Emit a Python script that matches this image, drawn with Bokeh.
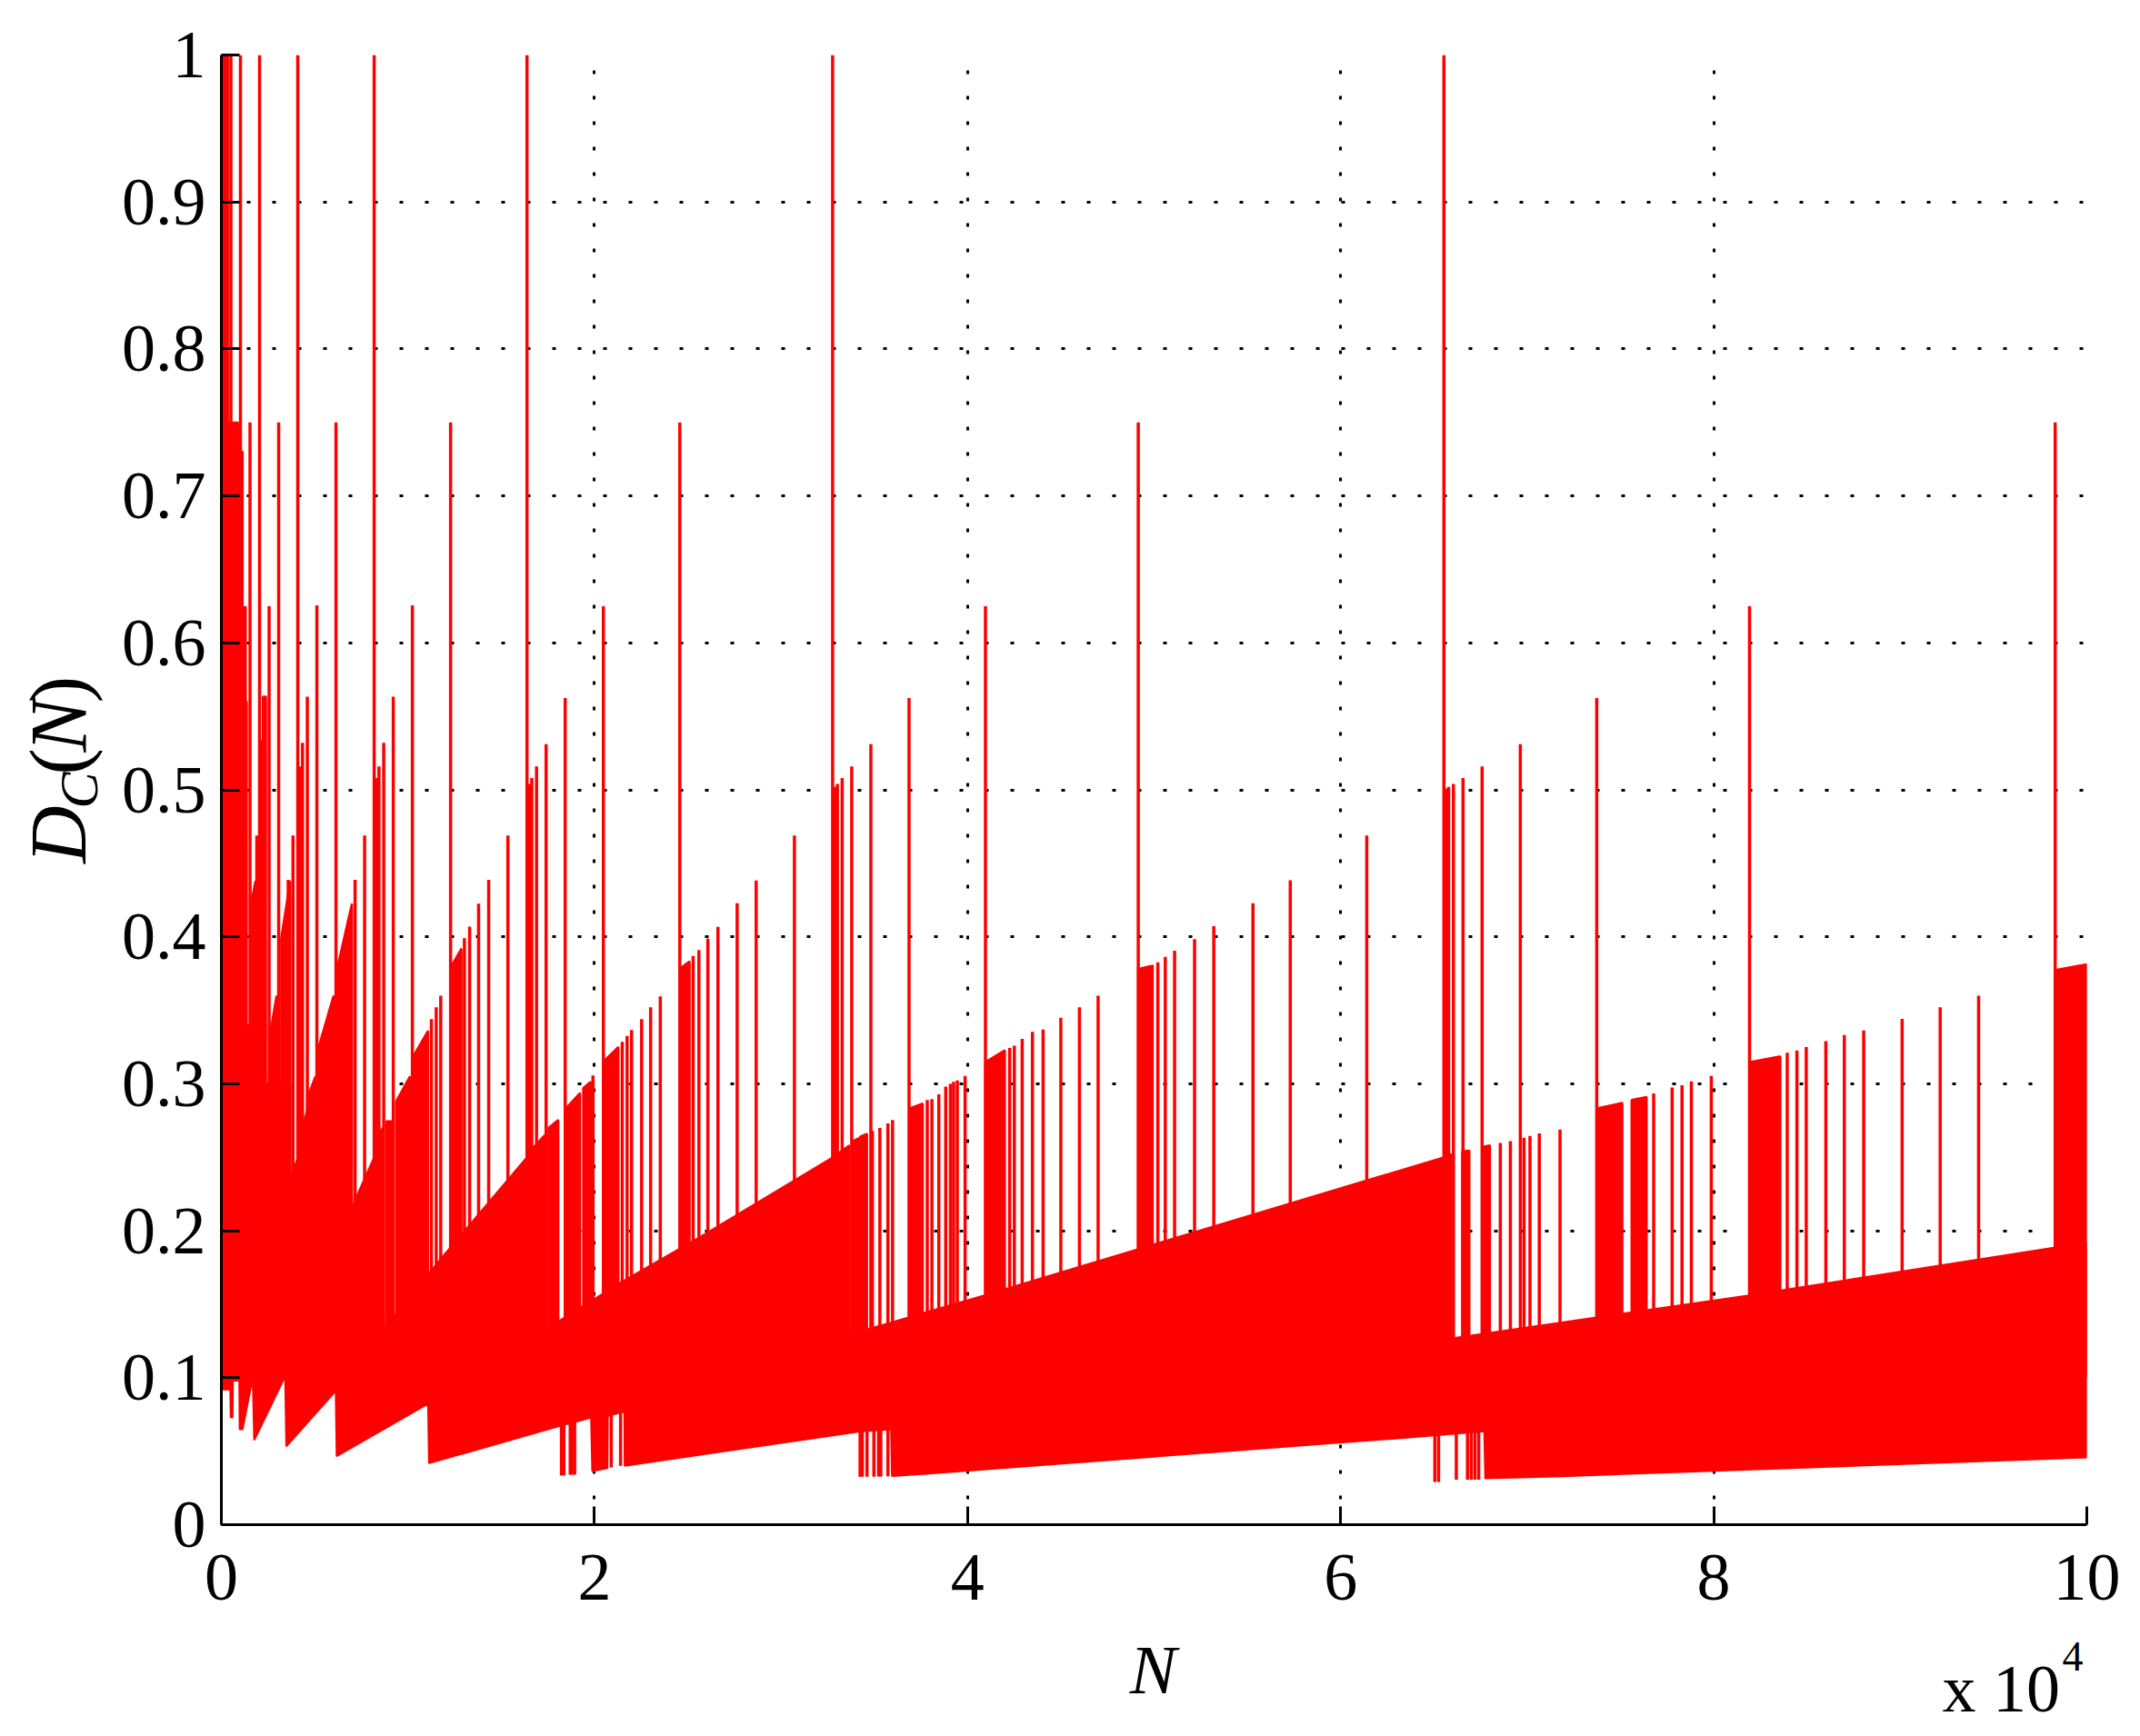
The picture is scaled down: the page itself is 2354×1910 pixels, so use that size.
import math
from bokeh.plotting import figure
from bokeh.models import Label, FixedTicker
from bokeh.layouts import column, row
from bokeh.embed import file_html
from bokeh.resources import INLINE

RED = "#ff0000"

# ---------------- data (N in units of 1e4, value D_C(N)) ----------------
# lower envelope of the dense band
low_n = [0.0, 0.004, 0.048, 0.050, 0.060, 0.062, 0.096, 0.098, 0.114, 0.168, 0.176,
         0.342, 0.348, 0.613, 0.618, 1.108, 1.113, 1.814, 1.90, 1.982, 1.988, 2.07,
         2.072, 2.16, 2.162, 3.42, 3.59, 3.595, 3.81, 6.369, 6.50, 6.77, 6.775, 7.19, 10.0]
low_v = [0.137, 0.092, 0.092, 0.073, 0.073, 0.098, 0.098, 0.065, 0.065, 0.100, 0.0575,
         0.101, 0.0533, 0.091, 0.0466, 0.0823, 0.0418, 0.0672, 0.070, 0.0729, 0.0365, 0.0385,
         0.074, 0.077, 0.040, 0.0634, 0.065, 0.0331, 0.0349, 0.0594, 0.0607, 0.0635, 0.0315, 0.0330, 0.0457]

# top of the solid band (sawtooth)
top_n = [0.0, 0.036, 0.036, 0.09, 0.09, 0.115, 0.115, 0.137, 0.137, 0.146, 0.146, 0.37, 0.37, 0.4096,
         0.4096, 0.60, 0.727, 0.8192,
         0.8192, 1.19, 1.6384,
         1.6384, 2.157, 2.569, 3.2768,
         3.2768, 3.60, 4.09, 4.90, 6.00, 6.5536,
         6.5536, 8.19, 10.0]
top_v = [1.0, 1.0, 0.75, 0.75, 0.73, 0.73, 0.56, 0.56, 0.34, 0.34, 0.30, 0.30, 0.235, 0.25,
         0.125, 0.183, 0.224, 0.25,
         0.125, 0.183, 0.25,
         0.125, 0.166, 0.196, 0.25,
         0.126, 0.138, 0.156, 0.187, 0.229, 0.25,
         0.126, 0.156, 0.192]

# dense comb groups: start N, end N, top at start, top at end
comb_n0 = [0.160, 0.2048, 0.223, 0.264, 0.321,
           0.4096, 0.446, 0.472, 0.524, 0.624,
           0.8192, 0.885, 0.937, 1.035, 1.238,
           1.6384, 1.676, 1.754, 1.852, 1.940, 2.055, 2.460,
           3.2768, 3.387, 3.424, 3.690, 4.096, 4.915,
           6.5536, 6.652, 6.770, 7.375, 7.560, 8.198, 9.840]
comb_n1 = [0.183, 0.223, 0.239, 0.296, 0.369,
           0.442, 0.470, 0.504, 0.602, 0.700,
           0.865, 0.914, 1.011, 1.108, 1.287,
           1.676, 1.733, 1.806, 1.923, 1.980, 2.128, 2.510,
           3.367, 3.416, 3.461, 3.760, 4.200, 4.980,
           6.590, 6.690, 6.800, 7.510, 7.640, 8.357, 10.0]
comb_v0 = [0.4228, 0.533, 0.5634, 0.336, 0.399,
           0.26, 0.275, 0.294, 0.326, 0.380,
           0.26, 0.2744, 0.288, 0.320, 0.381,
           0.25, 0.257, 0.270, 0.284, 0.297, 0.316, 0.3785,
           0.250, 0.261, 0.264, 0.2833, 0.3148, 0.378,
           0.250, 0.254, 0.2573, 0.2833, 0.289, 0.3148, 0.3776]
comb_v1 = [0.438, 0.533, 0.5634, 0.36, 0.438,
           0.27, 0.287, 0.305, 0.36, 0.4226,
           0.27, 0.2744, 0.305, 0.336, 0.392,
           0.257, 0.265, 0.2754, 0.2937, 0.3014, 0.325, 0.3832,
           0.258, 0.263, 0.266, 0.2865, 0.3227, 0.380,
           0.2521, 0.2545, 0.258, 0.287, 0.291, 0.3187, 0.3813]

# individual vertical lines (spikes): position and top value
line_n = [0.0512, 0.0768, 0.1024, 0.1152, 0.128, 0.1536, 0.19, 0.2048, 0.256, 0.3072, 0.3584, 0.384,
          0.4096, 0.4128, 0.416, 0.4224, 0.4352, 0.4608, 0.512, 0.6144, 0.7168, 0.768,
          0.8192, 0.8256, 0.832, 0.8448, 0.8704, 0.9216, 1.024, 1.126, 1.152, 1.176, 1.2288,
          1.303, 1.331, 1.379, 1.433, 1.536,
          1.6384, 1.6448, 1.6512, 1.664, 1.6896, 1.7408, 1.8432, 1.992, 2.048, 2.149, 2.175,
          2.199, 2.253, 2.301, 2.353, 2.4576, 2.529, 2.560, 2.608, 2.662, 2.765, 2.867, 3.072,
          3.2768, 3.2832, 3.2896, 3.3024, 3.328, 3.3792, 3.4816, 3.490, 3.530, 3.573, 3.598,
          3.6864, 3.784, 3.809, 3.846, 3.883, 3.908, 3.925, 3.945, 3.987, 4.096, 4.226, 4.251,
          4.293, 4.348, 4.405, 4.50, 4.60, 4.70, 4.9152, 4.99, 5.02, 5.06, 5.11, 5.217, 5.32,
          5.53, 5.73, 6.14,
          6.5536, 6.5664, 6.5792, 6.6048, 6.656, 6.7584, 6.856, 6.91, 6.9632, 6.983, 7.015,
          7.065, 7.176, 7.3728, 7.678, 7.777, 7.830, 7.880, 7.987, 8.192, 8.394, 8.446, 8.496,
          8.601, 8.700, 8.804, 9.010, 9.214, 9.420, 9.8304]
line_v = [1.0, 0.75, 1.0, 0.5625, 0.625, 0.75, 0.469, 1.0, 0.625, 0.75, 0.4387, 0.469,
          1.0, 0.504, 0.508, 0.516, 0.532, 0.5634, 0.6256, 0.75, 0.4387, 0.469,
          1.0, 0.504, 0.508, 0.516, 0.532, 0.5634, 0.6256, 0.344, 0.352, 0.36, 0.75,
          0.399, 0.407, 0.4226, 0.4387, 0.469,
          1.0, 0.502, 0.504, 0.508, 0.516, 0.531, 0.5625, 0.3056, 0.625, 0.3286, 0.3325,
          0.3366, 0.344, 0.352, 0.3595, 0.75, 0.387, 0.391, 0.3987, 0.4067, 0.4228, 0.4383, 0.469,
          1.0, 0.501, 0.502, 0.504, 0.508, 0.516, 0.531, 0.268, 0.270, 0.273, 0.2754,
          0.5625, 0.289, 0.2896, 0.2928, 0.2981, 0.300, 0.3013, 0.3022, 0.3054, 0.625, 0.3243, 0.3259,
          0.3305, 0.3353, 0.3369, 0.345, 0.352, 0.36, 0.75, 0.381, 0.3827, 0.3864, 0.3905, 0.3984, 0.4073,
          0.4228, 0.4385, 0.469,
          1.0, 0.501, 0.502, 0.504, 0.508, 0.516, 0.2597, 0.261, 0.531, 0.2633, 0.2645,
          0.2662, 0.2688, 0.5625, 0.2934, 0.2975, 0.299, 0.3016, 0.3054, 0.625, 0.3211, 0.3227, 0.325,
          0.329, 0.3332, 0.3363, 0.3442, 0.352, 0.36, 0.75]

# downward dips below the lower envelope
dip_n = [1.823, 1.829, 1.836, 1.870, 1.880, 1.894, 2.09, 2.14, 3.424, 3.436, 3.461, 3.498,
         3.523, 3.535, 3.573, 6.505, 6.525, 6.62, 6.68, 6.70, 6.72, 6.74]
dip_v = [0.0335, 0.0335, 0.0335, 0.034, 0.034, 0.034, 0.039, 0.040, 0.0326, 0.0326, 0.0326, 0.0326,
         0.0328, 0.0328, 0.033, 0.029, 0.029, 0.0306, 0.0306, 0.0306, 0.0306, 0.0306]

x_ticks = [0, 2, 4, 6, 8, 10]
x_tick_labels = ["0", "2", "4", "6", "8", "10"]
y_ticks = [0, 0.1, 0.2, 0.3, 0.4, 0.5, 0.6, 0.7, 0.8, 0.9, 1]
y_tick_labels = ["0", "0.1", "0.2", "0.3", "0.4", "0.5", "0.6", "0.7", "0.8", "0.9", "1"]

FONT = "Liberation Serif"

# ---------------- layout geometry (page pixels) ----------------
LEFT_W = 120      # strip holding the y label
MAIN_W = 2232
MAIN_H = 1793
BOT_H = 115

# ---------------- main figure ----------------
p = figure(width=MAIN_W, height=MAIN_H, x_range=(0, 10), y_range=(0, 1),
           output_backend="svg", toolbar_location=None, title=None,
           min_border_left=123, min_border_right=57, min_border_top=60,
           min_border_bottom=MAIN_H - 1677)
p.outline_line_color = None
p.background_fill_color = "white"
p.border_fill_color = "white"

p.xaxis.ticker = FixedTicker(ticks=x_ticks)
p.yaxis.ticker = FixedTicker(ticks=y_ticks)
p.xaxis.major_label_overrides = {t: s for t, s in zip(x_ticks, x_tick_labels)}
p.yaxis.major_label_overrides = {t: s for t, s in zip(y_ticks, y_tick_labels)}
for ax in (p.xaxis[0], p.yaxis[0]):
    ax.axis_line_width = 3
    ax.axis_line_color = "black"
    ax.major_tick_in = 20
    ax.major_tick_out = 0
    ax.major_tick_line_width = 3
    ax.major_tick_line_color = "black"
    ax.minor_tick_line_color = None
    ax.major_label_text_font = FONT
    ax.major_label_text_font_size = "74px"
    ax.major_label_text_color = "black"
p.xaxis.major_label_standoff = 33
p.yaxis.major_label_standoff = 17

p.xgrid.ticker = FixedTicker(ticks=x_ticks)
p.ygrid.ticker = FixedTicker(ticks=y_ticks)
for g in (p.xgrid[0], p.ygrid[0]):
    g.grid_line_color = "black"
    g.grid_line_width = 3
    g.grid_line_dash = "4 24"
    g.grid_line_alpha = 1.0

# solid band
poly_x = list(top_n) + list(reversed(low_n))
poly_y = list(top_v) + list(reversed(low_v))
p.patch(x=poly_x, y=poly_y, fill_color=RED, line_color=RED, line_width=2)

# dense combs
cxs = [[a, b, b, a] for a, b in zip(comb_n0, comb_n1)]
cys = [[0.1, 0.1, v1, v0] for v0, v1 in zip(comb_v0, comb_v1)]
p.patches(xs=cxs, ys=cys, fill_color=RED, line_color=RED, line_width=2.5)

# spikes
p.segment(x0=line_n, y0=[0.1] * len(line_n), x1=line_n, y1=line_v,
          line_color=RED, line_width=3.5)
# dips
p.segment(x0=dip_n, y0=[0.08] * len(dip_n), x1=dip_n, y1=dip_v,
          line_color=RED, line_width=3.5)


# ---------------- text strips (x = page X, y = -page Y) ----------------
def strip(width, height, x0, y0):
    f = figure(width=width, height=height, x_range=(x0, x0 + width),
               y_range=(-(y0 + height), -y0),
               output_backend="svg", toolbar_location=None, title=None, min_border=0,
               x_axis_location=None, y_axis_location=None)
    f.grid.visible = False
    f.outline_line_color = None
    f.background_fill_color = "white"
    f.border_fill_color = "white"
    return f


def add_label(f, X, Y, text, size, style="normal", angle=0.0, align="left"):
    # (X, Y) is the centre line of the text box (text_baseline "middle")
    f.add_layout(Label(x=X, y=-Y, text=text, text_font=FONT, text_font_size=size,
                       text_font_style=style, text_color="black", angle=angle,
                       text_align=align, text_baseline="middle"))


yfig = strip(LEFT_W, MAIN_H, 0, 0)
a = math.pi / 2
add_label(yfig, 64, 951, "D", "88px", "italic", angle=a, align="center")
add_label(yfig, 86, 897, "C", "60px", "italic", angle=a, align="center")
add_label(yfig, 64, 862, "(", "88px", angle=a, align="center")
add_label(yfig, 64, 818, "N", "88px", "italic", angle=a, align="center")
add_label(yfig, 64, 774, ")", "88px", angle=a, align="center")

bfig = strip(LEFT_W + MAIN_W, BOT_H, 0, MAIN_H)
add_label(bfig, 1268, 1836, "N", "77px", "italic", align="center")
add_label(bfig, 2136, 1857, "x 10", "74px")
add_label(bfig, 2268, 1822, "4", "46px")

layout = column(row(yfig, p), bfig)
open("out.html", "w").write(file_html(layout, INLINE))
